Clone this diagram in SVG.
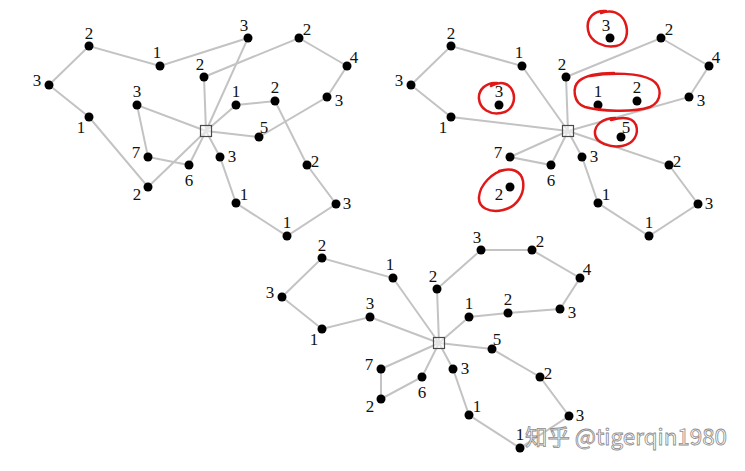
<svg xmlns="http://www.w3.org/2000/svg" width="745" height="471" viewBox="0 0 745 471">
<style>
.e{stroke:#c3c3c3;stroke-width:2;fill:none;stroke-linecap:round}
.n circle{fill:#000}
.n text{font-family:"Liberation Serif","Times New Roman",serif;font-size:17px;fill:#111;text-anchor:middle}
.sq{fill:#fff;fill-opacity:0.55;stroke:#4a4a4a;stroke-width:1.2}
.red{fill:none;stroke:#e01818;stroke-width:2.5;stroke-linecap:round;stroke-linejoin:round}
.wm{font-family:"Noto Sans CJK SC","Noto Sans",sans-serif;font-size:22px;fill:#ffffff;fill-opacity:0.8;stroke:#8c8c8c;stroke-width:0.8}
</style>
<rect width="745" height="471" fill="#ffffff"/>

<!-- Top-left graph -->
<g id="graph-top-left">
<g id="tl-connectors">
<polyline class="e" points="206,131 248,38 160,66 89,46 49,85 89,117 148,187 206,131"/>
<polyline class="e" points="206,131 137,105 148,157 189,165 206,131"/>
<polyline class="e" points="206,131 204,77 299,38 347,66 327,97 259,137 206,131"/>
<polyline class="e" points="206,131 236,105 275,101 307,165 336,204 287,236 236,203 220,157 206,131"/>
</g>
<g id="tl-hub"><rect class="sq" x="200.5" y="125.5" width="11" height="11"/></g>
<g id="tl-n1" class="n"><circle cx="49" cy="85" r="4.5"/><text x="37" y="86">3</text></g>
<g id="tl-n2" class="n"><circle cx="89" cy="46" r="4.5"/><text x="89" y="39">2</text></g>
<g id="tl-n3" class="n"><circle cx="160" cy="66" r="4.5"/><text x="157" y="58">1</text></g>
<g id="tl-n4" class="n"><circle cx="248" cy="38" r="4.5"/><text x="244" y="31">3</text></g>
<g id="tl-n5" class="n"><circle cx="89" cy="117" r="4.5"/><text x="81" y="133">1</text></g>
<g id="tl-n6" class="n"><circle cx="148" cy="187" r="4.5"/><text x="137" y="200">2</text></g>
<g id="tl-n7" class="n"><circle cx="137" cy="105" r="4.5"/><text x="137" y="97">3</text></g>
<g id="tl-n8" class="n"><circle cx="148" cy="157" r="4.5"/><text x="136" y="158">7</text></g>
<g id="tl-n9" class="n"><circle cx="189" cy="165" r="4.5"/><text x="189" y="186">6</text></g>
<g id="tl-n10" class="n"><circle cx="204" cy="77" r="4.5"/><text x="200" y="70">2</text></g>
<g id="tl-n11" class="n"><circle cx="299" cy="38" r="4.5"/><text x="307" y="35">2</text></g>
<g id="tl-n12" class="n"><circle cx="347" cy="66" r="4.5"/><text x="354" y="63">4</text></g>
<g id="tl-n13" class="n"><circle cx="327" cy="97" r="4.5"/><text x="339" y="106">3</text></g>
<g id="tl-n14" class="n"><circle cx="259" cy="137" r="4.5"/><text x="264" y="133">5</text></g>
<g id="tl-n15" class="n"><circle cx="236" cy="105" r="4.5"/><text x="236" y="97">1</text></g>
<g id="tl-n16" class="n"><circle cx="275" cy="101" r="4.5"/><text x="275" y="93">2</text></g>
<g id="tl-n17" class="n"><circle cx="307" cy="165" r="4.5"/><text x="315" y="167">2</text></g>
<g id="tl-n18" class="n"><circle cx="336" cy="204" r="4.5"/><text x="347" y="209">3</text></g>
<g id="tl-n19" class="n"><circle cx="287" cy="236" r="4.5"/><text x="287" y="228">1</text></g>
<g id="tl-n20" class="n"><circle cx="236" cy="203" r="4.5"/><text x="244" y="200">1</text></g>
<g id="tl-n21" class="n"><circle cx="220" cy="157" r="4.5"/><text x="232" y="162">3</text></g>
</g>

<!-- Top-right graph -->
<g id="graph-top-right" transform="translate(362,0)">
<g id="tr-connectors">
<polyline class="e" points="206,131 160,66 89,46 49,85 89,117 206,131"/>
<polyline class="e" points="206,131 148,157 189,165 206,131"/>
<polyline class="e" points="206,131 204,77 299,38 347,66 327,97 206,131"/>
<polyline class="e" points="206,131 307,165 336,204 287,236 236,203 220,157 206,131"/>
</g>
<g id="tr-hub"><rect class="sq" x="200.5" y="125.5" width="11" height="11"/></g>
<g id="tr-n1" class="n"><circle cx="49" cy="85" r="4.5"/><text x="37" y="86">3</text></g>
<g id="tr-n2" class="n"><circle cx="89" cy="46" r="4.5"/><text x="89" y="39">2</text></g>
<g id="tr-n3" class="n"><circle cx="160" cy="66" r="4.5"/><text x="157" y="58">1</text></g>
<g id="tr-n4" class="n"><circle cx="248" cy="38" r="4.5"/><text x="244" y="31">3</text></g>
<g id="tr-n5" class="n"><circle cx="89" cy="117" r="4.5"/><text x="81" y="133">1</text></g>
<g id="tr-n6" class="n"><circle cx="148" cy="187" r="4.5"/><text x="137" y="200">2</text></g>
<g id="tr-n7" class="n"><circle cx="137" cy="105" r="4.5"/><text x="137" y="97">3</text></g>
<g id="tr-n8" class="n"><circle cx="148" cy="157" r="4.5"/><text x="136" y="158">7</text></g>
<g id="tr-n9" class="n"><circle cx="189" cy="165" r="4.5"/><text x="189" y="186">6</text></g>
<g id="tr-n10" class="n"><circle cx="204" cy="77" r="4.5"/><text x="200" y="70">2</text></g>
<g id="tr-n11" class="n"><circle cx="299" cy="38" r="4.5"/><text x="307" y="35">2</text></g>
<g id="tr-n12" class="n"><circle cx="347" cy="66" r="4.5"/><text x="354" y="63">4</text></g>
<g id="tr-n13" class="n"><circle cx="327" cy="97" r="4.5"/><text x="339" y="106">3</text></g>
<g id="tr-n14" class="n"><circle cx="259" cy="137" r="4.5"/><text x="264" y="133">5</text></g>
<g id="tr-n15" class="n"><circle cx="236" cy="105" r="4.5"/><text x="236" y="97">1</text></g>
<g id="tr-n16" class="n"><circle cx="275" cy="101" r="4.5"/><text x="275" y="93">2</text></g>
<g id="tr-n17" class="n"><circle cx="307" cy="165" r="4.5"/><text x="315" y="167">2</text></g>
<g id="tr-n18" class="n"><circle cx="336" cy="204" r="4.5"/><text x="347" y="209">3</text></g>
<g id="tr-n19" class="n"><circle cx="287" cy="236" r="4.5"/><text x="287" y="228">1</text></g>
<g id="tr-n20" class="n"><circle cx="236" cy="203" r="4.5"/><text x="244" y="200">1</text></g>
<g id="tr-n21" class="n"><circle cx="220" cy="157" r="4.5"/><text x="232" y="162">3</text></g>
</g>

<!-- Red hand-drawn marks -->
<g id="red-marks">
<path class="red" d="M606,11 C594,10 586,18 588,30 C590,42 604,48 616,46 C627,44 629,32 625,22 C621,13 612,9 601,13"/>
<path class="red" d="M590,76 C612,72 640,73 652,80 C662,86 663,101 650,107 C632,113 600,111 585,107 C573,103 572,87 579,81 C586,75 600,73 614,73"/>
<path class="red" d="M615,118 C603,118 594,125 595,134 C596,143 610,148 622,146 C634,144 639,134 636,125 C633,118 625,116 611,120"/>
<path class="red" d="M497,83 C486,82 478,90 479,99 C480,109 490,115 501,113 C512,111 516,101 513,92 C510,84 502,80 491,86"/>
<path class="red" d="M505,170 C492,172 480,185 479,197 C478,208 490,213 503,210 C517,207 525,194 523,181 C521,171 512,167 499,171"/>
</g>

<!-- Bottom graph -->
<g id="graph-bottom" transform="translate(233,212)">
<g id="bg-connectors">
<polyline class="e" points="206,131 160,66 89,46 49,85 89,117 137,105 206,131"/>
<polyline class="e" points="206,131 148,157 148,187 189,165 206,131"/>
<polyline class="e" points="206,131 204,77 248,38 299,38 347,66 327,97 275,101 236,105 206,131"/>
<polyline class="e" points="206,131 259,137 307,165 336,204 287,236 236,203 220,157 206,131"/>
</g>
<g id="bg-hub"><rect class="sq" x="200.5" y="125.5" width="11" height="11"/></g>
<g id="bg-n1" class="n"><circle cx="49" cy="85" r="4.5"/><text x="37" y="86">3</text></g>
<g id="bg-n2" class="n"><circle cx="89" cy="46" r="4.5"/><text x="89" y="39">2</text></g>
<g id="bg-n3" class="n"><circle cx="160" cy="66" r="4.5"/><text x="157" y="58">1</text></g>
<g id="bg-n4" class="n"><circle cx="248" cy="38" r="4.5"/><text x="244" y="31">3</text></g>
<g id="bg-n5" class="n"><circle cx="89" cy="117" r="4.5"/><text x="81" y="133">1</text></g>
<g id="bg-n6" class="n"><circle cx="148" cy="187" r="4.5"/><text x="137" y="200">2</text></g>
<g id="bg-n7" class="n"><circle cx="137" cy="105" r="4.5"/><text x="137" y="97">3</text></g>
<g id="bg-n8" class="n"><circle cx="148" cy="157" r="4.5"/><text x="136" y="158">7</text></g>
<g id="bg-n9" class="n"><circle cx="189" cy="165" r="4.5"/><text x="189" y="186">6</text></g>
<g id="bg-n10" class="n"><circle cx="204" cy="77" r="4.5"/><text x="200" y="70">2</text></g>
<g id="bg-n11" class="n"><circle cx="299" cy="38" r="4.5"/><text x="307" y="35">2</text></g>
<g id="bg-n12" class="n"><circle cx="347" cy="66" r="4.5"/><text x="354" y="63">4</text></g>
<g id="bg-n13" class="n"><circle cx="327" cy="97" r="4.5"/><text x="339" y="106">3</text></g>
<g id="bg-n14" class="n"><circle cx="259" cy="137" r="4.5"/><text x="264" y="133">5</text></g>
<g id="bg-n15" class="n"><circle cx="236" cy="105" r="4.5"/><text x="236" y="97">1</text></g>
<g id="bg-n16" class="n"><circle cx="275" cy="101" r="4.5"/><text x="275" y="93">2</text></g>
<g id="bg-n17" class="n"><circle cx="307" cy="165" r="4.5"/><text x="315" y="167">2</text></g>
<g id="bg-n18" class="n"><circle cx="336" cy="204" r="4.5"/><text x="347" y="209">3</text></g>
<g id="bg-n19" class="n"><circle cx="287" cy="236" r="4.5"/><text x="287" y="228">1</text></g>
<g id="bg-n20" class="n"><circle cx="236" cy="203" r="4.5"/><text x="244" y="200">1</text></g>
<g id="bg-n21" class="n"><circle cx="220" cy="157" r="4.5"/><text x="232" y="162">3</text></g>
</g>

<!-- Watermark -->
<text class="wm" x="525" y="445" textLength="202" lengthAdjust="spacingAndGlyphs">知乎 @tigerqin1980</text>
</svg>
